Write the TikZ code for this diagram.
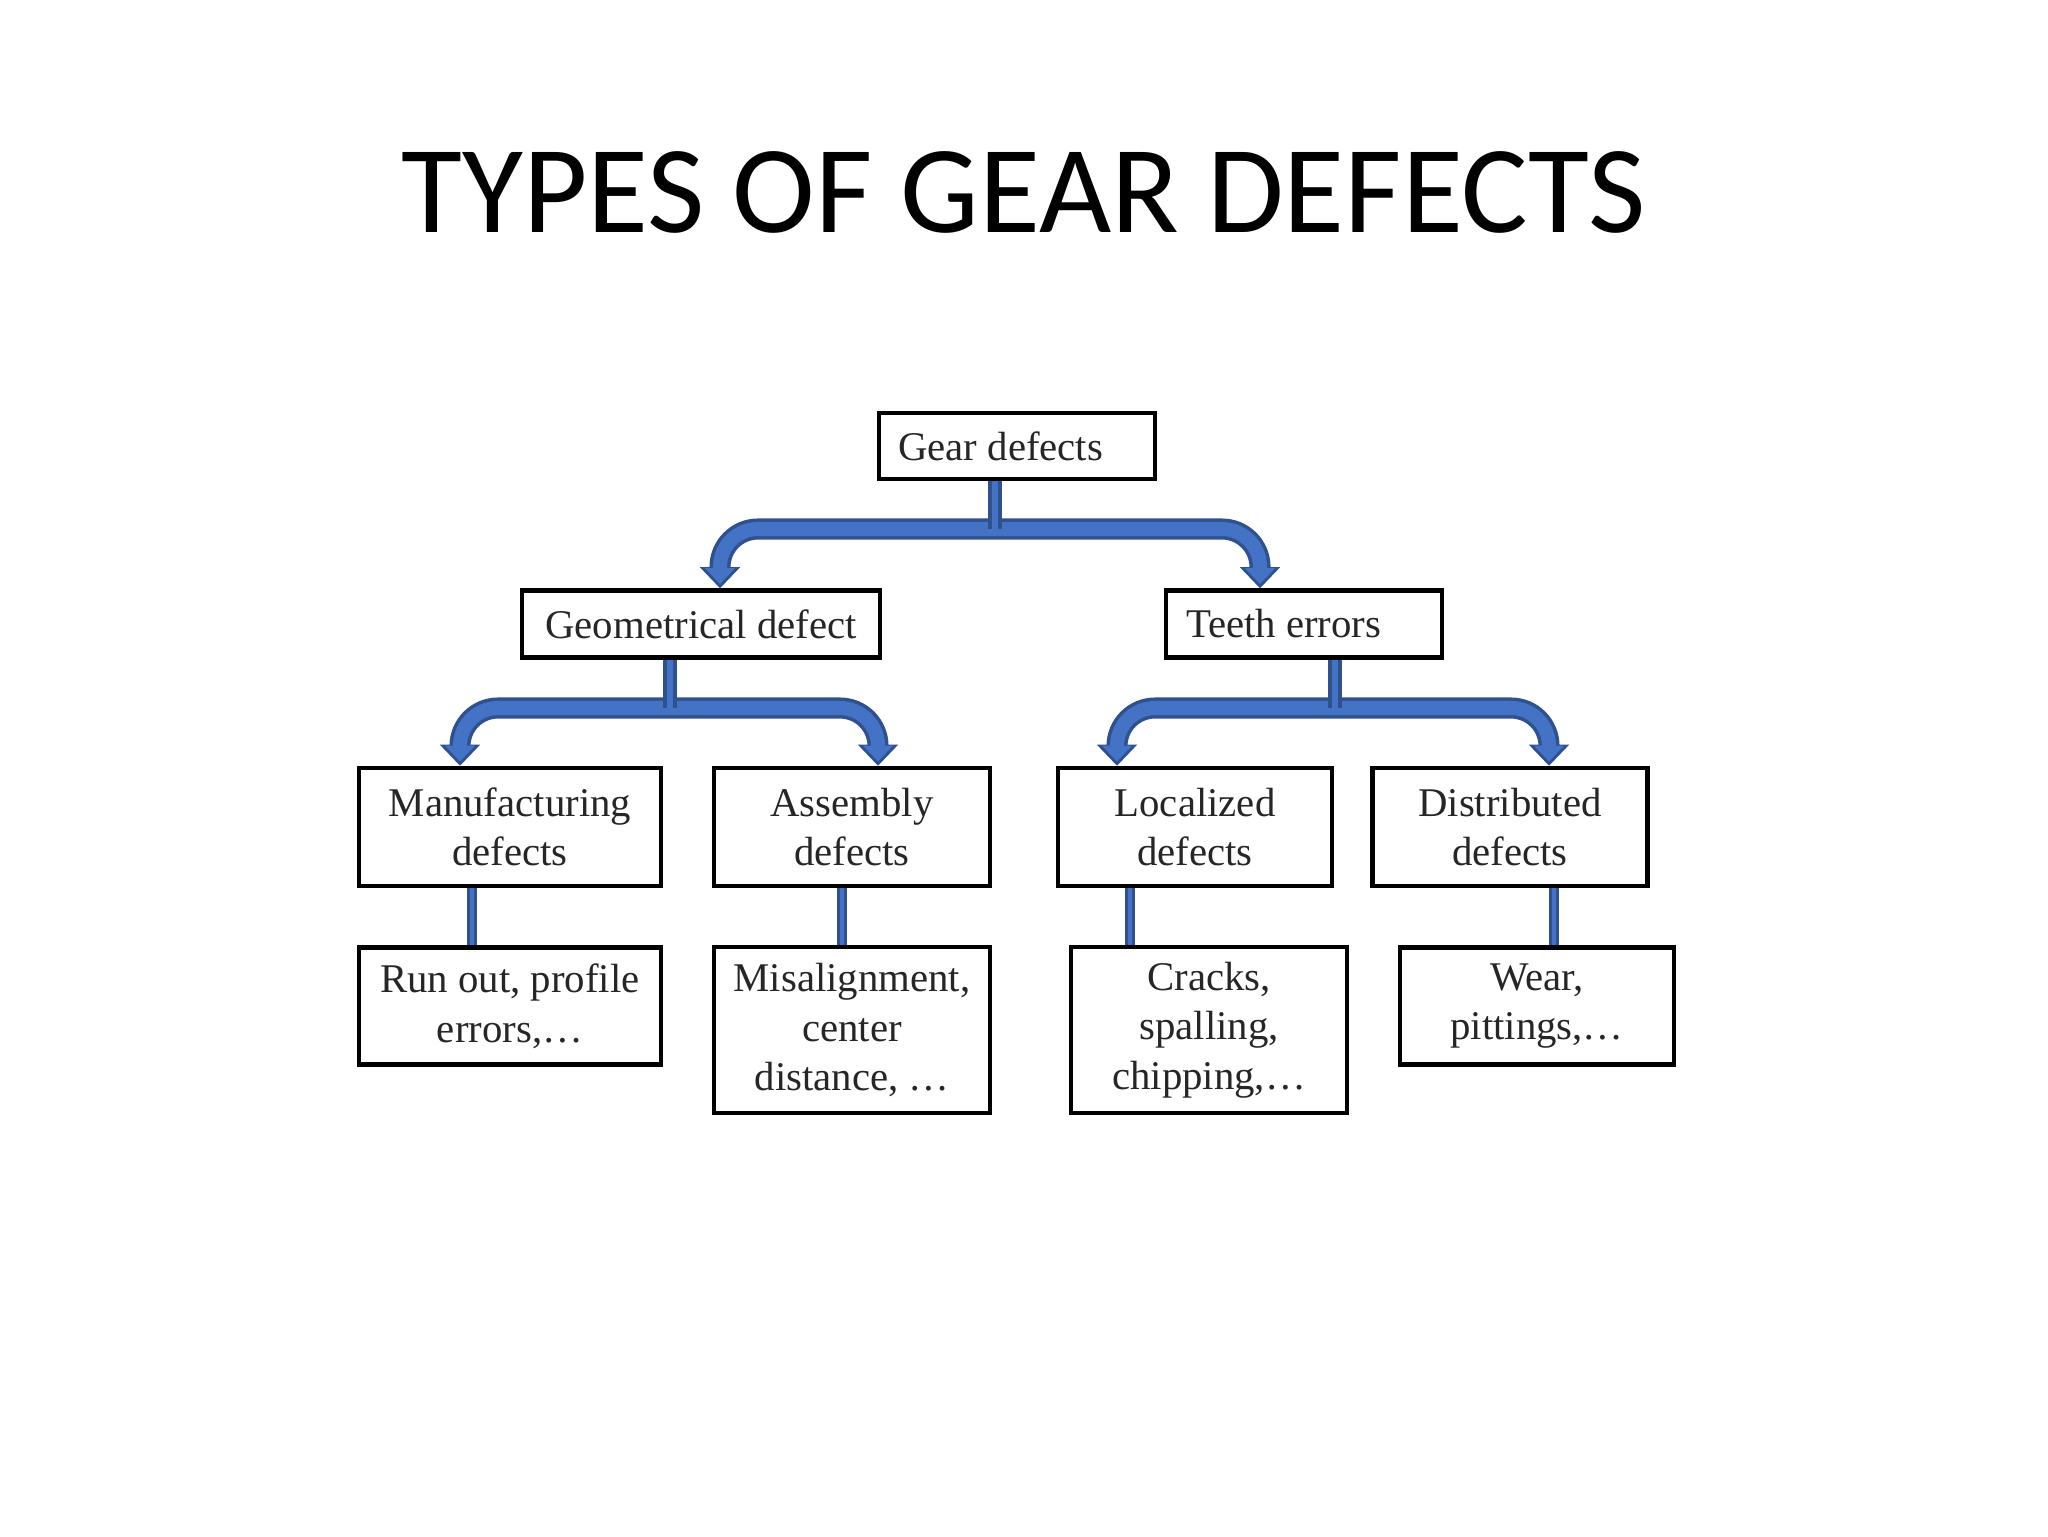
\documentclass[tikz,border=0pt]{standalone}
\usepackage{fontspec}
\setmainfont{Liberation Serif}
\newfontfamily\titlefont{Carlito}
\usetikzlibrary{arrows.meta,calc}
\definecolor{bfill}{RGB}{68,114,196}
\definecolor{bedge}{RGB}{47,82,143}
\definecolor{txt}{RGB}{38,38,38}
\begin{document}
\begin{tikzpicture}[x=0.1mm,y=-0.1mm,
  box/.style={draw=black, line width=1.3pt, fill=white, inner sep=0pt, text=txt,
    font=\fontsize{11.6pt}{14.1pt}\selectfont, align=center},
  brk/.style={draw=bedge, line width=6pt, rounded corners=3.8mm,
    -{Triangle[width=11.5pt,length=6pt,line width=0pt]},
    postaction={draw=bfill, line width=4pt, shorten >=1.2pt,
      -{Triangle[width=8.5pt,length=4.5pt,line width=0pt]}}},
  stemline/.style={draw=bedge, line width=3.8pt,
    postaction={draw=bfill, line width=1.8pt}},
  plainline/.style={draw=bedge, line width=2.9pt,
    postaction={draw=bfill, line width=1.2pt}}]
\useasboundingbox[fill=white] (0,0) rectangle (2048,1536);

\node[anchor=base, font=\titlefont\fontsize{35.5pt}{40pt}\selectfont] (title) at (1024,232) {TYPES OF GEAR DEFECTS};

\node[box, minimum width=27.6mm, minimum height=6.6mm] (gear) at (1017,446) {Gear defects\hspace{0.8em}};
\node[box, minimum width=35.8mm, minimum height=6.7mm] (geo) at (701,624) {Geometrical defect};
\node[box, minimum width=27.6mm, minimum height=6.7mm] (teeth) at (1304,624) {Teeth errors\hspace{1em}};

\node[box, minimum width=30.2mm, minimum height=11.8mm] (manu) at (510,827) {Manufacturing\\defects};
\node[box, minimum width=27.6mm, minimum height=11.8mm] (assem) at (852,827) {Assembly\\defects};
\node[box, minimum width=27.4mm, minimum height=11.8mm] (local) at (1195,827) {Localized\\defects};
\node[box, minimum width=27.5mm, minimum height=11.8mm] (distr) at (1510,827) {Distributed\\defects};

\node[box, minimum width=30.2mm, minimum height=11.7mm] (runout) at (510,1006) {Run out, profile\\errors,…};
\node[box, minimum width=27.6mm, minimum height=16.6mm] (misal) at (852,1030) {Misalignment,\\center\\distance, …};
\node[box, minimum width=27.6mm, minimum height=16.6mm] (cracks) at (1209,1030) {Cracks,\\spalling,\\chipping,…};
\node[box, minimum width=27.4mm, minimum height=11.7mm] (wear) at (1537,1006) {Wear,\\pittings,…};

% level 1 -> 2
\coordinate (j1) at (995,529);
\draw[brk] (j1) -| ($(geo.north)+(19,0)$);
\draw[brk] (j1) -| ($(teeth.north)+(-44,0)$);
\draw[stemline] (gear.south -| j1) -- (j1);

% level 2 -> 3
\coordinate (j2) at (670,708);
\draw[brk] (j2) -| ($(manu.north)+(-50,0)$);
\draw[brk] (j2) -| ($(assem.north)+(26,0)$);
\draw[stemline] (geo.south -| j2) -- (j2);

\coordinate (j3) at (1335,708);
\draw[brk] (j3) -| ($(local.north)+(-78,0)$);
\draw[brk] (j3) -| ($(distr.north)+(39,0)$);
\draw[stemline] (teeth.south -| j3) -- (j3);

% level 3 -> 4
\draw[plainline] ($(manu.south)+(-38,0)$) coordinate (p1) -- (p1 |- runout.north);
\draw[plainline] ($(assem.south)+(-10,0)$) coordinate (p2) -- (p2 |- misal.north);
\draw[plainline] ($(local.south)+(-65,0)$) coordinate (p3) -- (p3 |- cracks.north);
\draw[plainline] ($(distr.south)+(44,0)$) coordinate (p4) -- (p4 |- wear.north);
\end{tikzpicture}
\end{document}
